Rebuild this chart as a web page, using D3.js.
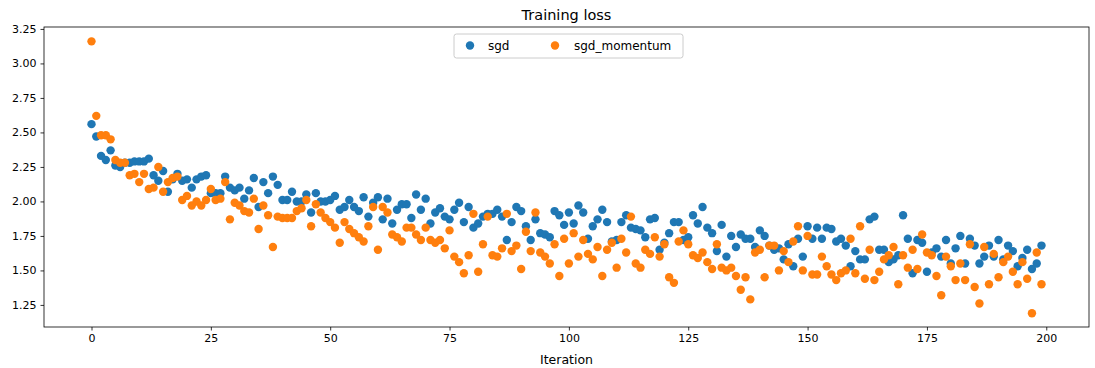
<!doctype html>
<html>
<head>
<script src="https://cdnjs.cloudflare.com/ajax/libs/d3/7.8.5/d3.min.js"></script>
<style>
  body { margin: 0; background: #fff; }
  text { font-family: "DejaVu Sans", sans-serif; fill: #000; }
</style>
</head>
<body>
<svg id="chart" width="1095" height="368"></svg>
<script>
// values, one per iteration 0..199
const sgd = [
  2.56,2.47,2.33,2.30,2.37,2.26,2.25,2.28,2.28,2.29, 2.29,2.29,2.31,2.19,2.15,2.22,2.07,2.16,2.20,2.15,
  2.16,2.10,2.16,2.18,2.19,2.06,2.06,2.06,2.18,2.10, 2.08,2.10,2.02,2.08,2.17,1.96,2.14,2.06,2.18,2.12,
  2.01,2.01,2.07,2.00,2.00,2.05,1.92,2.06,2.00,2.00, 2.01,2.04,1.94,1.96,2.01,1.96,1.93,2.03,1.89,1.99,
  2.03,1.87,2.02,1.84,1.94,1.98,1.98,1.88,2.05,1.94, 2.02,1.84,1.92,1.95,1.89,1.87,1.94,1.99,1.85,1.96,
  1.81,1.84,1.89,1.91,1.91,1.94,1.89,1.72,1.85,1.96, 1.93,1.82,1.72,1.87,1.77,1.76,1.74,1.93,1.90,1.83,
  1.92,1.84,1.97,1.92,1.73,1.82,1.87,1.94,1.85,1.71, 1.72,1.85,1.90,1.81,1.80,1.79,1.74,1.87,1.88,1.65,
  1.70,1.77,1.85,1.85,1.72,1.74,1.90,1.84,1.96,1.81, 1.77,1.64,1.83,1.60,1.75,1.67,1.76,1.73,1.73,1.67,
  1.79,1.75,1.68,1.65,1.66,1.58,1.69,1.53,1.73,1.60, 1.82,1.73,1.81,1.73,1.81,1.80,1.71,1.73,1.68,1.53,
  1.64,1.58,1.58,1.87,1.89,1.65,1.65,1.56,1.58,1.61, 1.90,1.73,1.48,1.72,1.70,1.49,1.63,1.66,1.60,1.72,
  1.55,1.66,1.75,1.55,1.73,1.68,1.55,1.60,1.68,1.60, 1.72,1.58,1.68,1.64,1.53,1.59,1.65,1.51,1.55,1.68
];
const sgdMomentum = [
  3.16,2.62,2.48,2.48,2.45,2.30,2.28,2.28,2.19,2.20, 2.14,2.20,2.09,2.10,2.25,2.07,2.14,2.17,2.18,2.01,
  2.04,1.97,2.00,1.97,2.01,2.09,2.01,2.02,2.14,1.87, 1.99,1.97,1.93,1.92,2.02,1.80,1.97,1.90,1.67,1.89,
  1.88,1.88,1.88,1.93,1.95,2.01,1.82,1.98,1.92,1.88, 1.85,1.81,1.70,1.85,1.80,1.77,1.74,1.71,1.82,1.96,
  1.65,1.96,1.92,1.76,1.74,1.71,1.81,1.81,1.76,1.72, 1.81,1.72,1.70,1.72,1.66,1.79,1.60,1.56,1.48,1.61,
  1.91,1.49,1.69,1.89,1.61,1.60,1.66,1.91,1.64,1.68, 1.51,1.78,1.64,1.92,1.63,1.60,1.55,1.69,1.46,1.73,
  1.55,1.77,1.60,1.72,1.62,1.58,1.67,1.46,1.65,1.70, 1.52,1.73,1.63,1.89,1.55,1.52,1.65,1.62,1.74,1.60,
  1.69,1.45,1.41,1.71,1.79,1.69,1.61,1.59,1.63,1.56, 1.51,1.69,1.52,1.50,1.52,1.46,1.36,1.45,1.29,1.63,
  1.65,1.45,1.68,1.68,1.50,1.64,1.56,1.71,1.82,1.50, 1.75,1.47,1.47,1.60,1.53,1.47,1.43,1.48,1.50,1.73,
  1.48,1.82,1.44,1.65,1.43,1.49,1.58,1.61,1.67,1.40, 1.61,1.52,1.65,1.51,1.76,1.63,1.61,1.46,1.32,1.60,
  1.53,1.43,1.55,1.43,1.69,1.38,1.26,1.67,1.40,1.62, 1.45,1.56,1.60,1.49,1.40,1.56,1.44,1.19,1.63,1.40
];
const seriesNames = ["sgd", "sgd_momentum"];
const colors = ["#1f77b4", "#ff7f0e"];
const xTicks = [0, 25, 50, 75, 100, 125, 150, 175, 200];
const yTicks = [1.25, 1.50, 1.75, 2.00, 2.25, 2.50, 2.75, 3.00, 3.25];

const svg = d3.select("#chart");
const margin = {top: 27, right: 6, bottom: 41, left: 44};
const width = 1095 - margin.left - margin.right;
const height = 368 - margin.top - margin.bottom;
const g = svg.append("g").attr("transform", `translate(${margin.left},${margin.top})`);

const x = d3.scaleLinear().domain([-9.95, 208.95]).range([0, width]);
const y = d3.scaleLinear().domain([1.09, 3.264]).range([height, 0]);

const xAxis = g.append("g").attr("transform", `translate(0,${height})`)
  .call(d3.axisBottom(x).tickValues(xTicks).tickSize(3.5).tickPadding(4).tickFormat(d3.format("d")));
const yAxis = g.append("g")
  .call(d3.axisLeft(y).tickValues(yTicks).tickSize(3.5).tickPadding(4).tickFormat(d3.format(".2f")));
[xAxis, yAxis].forEach(a => {
  a.select(".domain").remove();
  a.selectAll("line").attr("stroke", "#000").attr("stroke-width", 0.8);
  a.selectAll("text").style("font-size", "11px").attr("fill", "#000");
});

// frame
g.append("rect").attr("width", width).attr("height", height)
  .attr("fill", "none").attr("stroke", "#000").attr("stroke-width", 0.8);

[sgd, sgdMomentum].forEach((vals, k) => {
  g.append("g").selectAll("circle").data(vals).enter().append("circle")
    .attr("cx", (d, i) => x(i))
    .attr("cy", d => y(d))
    .attr("r", 4.2)
    .attr("fill", colors[k]);
});

svg.append("text").attr("x", margin.left + width / 2).attr("y", 20)
  .attr("text-anchor", "middle").style("font-size", "14.5px").text("Training loss");
svg.append("text").attr("x", margin.left + width / 2).attr("y", 364)
  .attr("text-anchor", "middle").style("font-size", "12.5px").text("Iteration");

// legend, two columns at the top centre
const lg = svg.append("g").attr("transform", "translate(454,34)");
lg.append("rect").attr("width", 229).attr("height", 24).attr("rx", 2.5)
  .attr("fill", "#fff").attr("fill-opacity", 0.8).attr("stroke", "#ccc");
const items = [{name: seriesNames[0], mx: 16, tx: 34}, {name: seriesNames[1], mx: 101, tx: 120}];
items.forEach((it, k) => {
  lg.append("circle").attr("cx", it.mx).attr("cy", 11.5).attr("r", 4.2).attr("fill", colors[k]);
  lg.append("text").attr("x", it.tx).attr("y", 16).style("font-size", "12px").text(it.name);
});
</script>
</body>
</html>
